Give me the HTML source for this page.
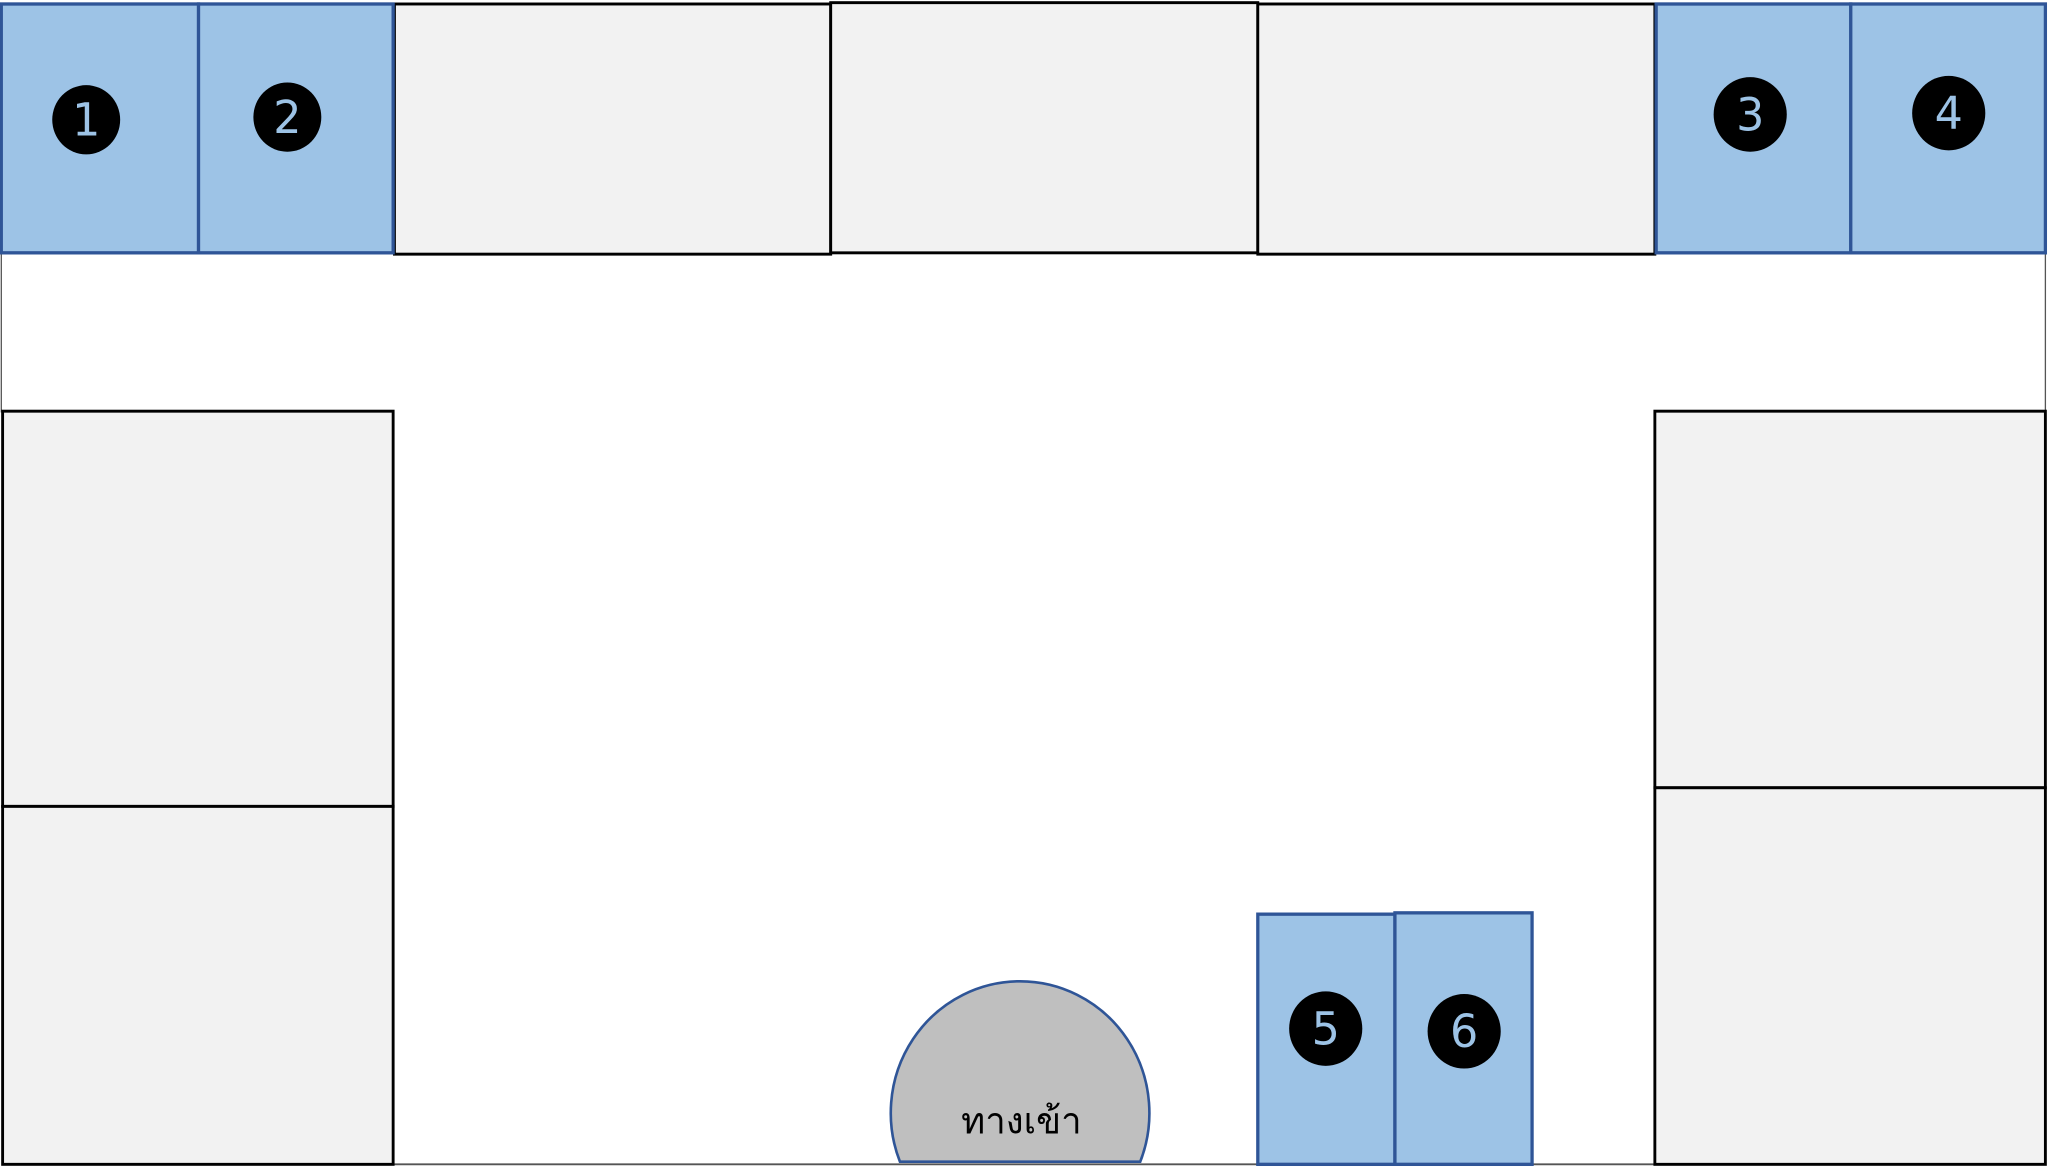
<!DOCTYPE html>
<html><head><meta charset="utf-8"><style>
html,body{margin:0;padding:0;background:#fff;}
svg{display:block;}
</style></head><body>
<svg width="2048" height="1167" viewBox="0 0 1568 877" preserveAspectRatio="none" xmlns="http://www.w3.org/2000/svg">
<rect x="0" y="0" width="1568" height="877" fill="#fff"/>
<line x1="1" y1="190" x2="1" y2="310" stroke="#555" stroke-width="1"/>
<line x1="1566" y1="190" x2="1566" y2="310" stroke="#555" stroke-width="1"/>
<line x1="301" y1="875" x2="1267" y2="875" stroke="#555" stroke-width="1.4"/>
<g stroke="#000" stroke-width="2.2" fill="#f2f2f2">
<rect x="302" y="3" width="334" height="188"/>
<rect x="636" y="2" width="327" height="188"/>
<rect x="963" y="3" width="304" height="188"/>
<rect x="2" y="309" width="299" height="297"/>
<rect x="2" y="606" width="299" height="269"/>
<rect x="1267" y="309" width="299" height="283"/>
<rect x="1267" y="592" width="299" height="283"/>
</g>
<g stroke="#2f5597" stroke-width="2.5" fill="#9dc3e6">
<rect x="1" y="3" width="151" height="187"/>
<rect x="152" y="3" width="149" height="187"/>
<rect x="1268" y="3" width="149" height="187"/>
<rect x="1417" y="3" width="149" height="187"/>
<rect x="963" y="687" width="105" height="188"/>
<rect x="1068" y="686" width="105" height="189"/>
</g>
<path d="M689,873 A99,99 0 1 1 873,873 Z" fill="#bfbfbf" stroke="#2f5597" stroke-width="2"/>
<text x="782" y="852" font-family="'Noto Serif CJK SC', serif" font-size="28" text-anchor="middle" fill="#000">ทางเข้า</text>
<g fill="#000">
<circle cx="66" cy="90" r="26"/>
<circle cx="220" cy="88" r="26"/>
<circle cx="1340" cy="86" r="28"/>
<circle cx="1492" cy="85" r="28"/>
<circle cx="1015" cy="773" r="28"/>
<circle cx="1121" cy="775" r="28"/>
</g>
<g fill="#9dc3e6" font-family="DejaVu Sans, Liberation Sans, sans-serif" font-size="34" text-anchor="middle">
<text x="66" y="102">1</text>
<text x="220" y="100">2</text>
<text x="1340" y="98">3</text>
<text x="1492" y="97">4</text>
<text x="1015" y="785">5</text>
<text x="1121" y="787">6</text>
</g>
</svg>
</body></html>
